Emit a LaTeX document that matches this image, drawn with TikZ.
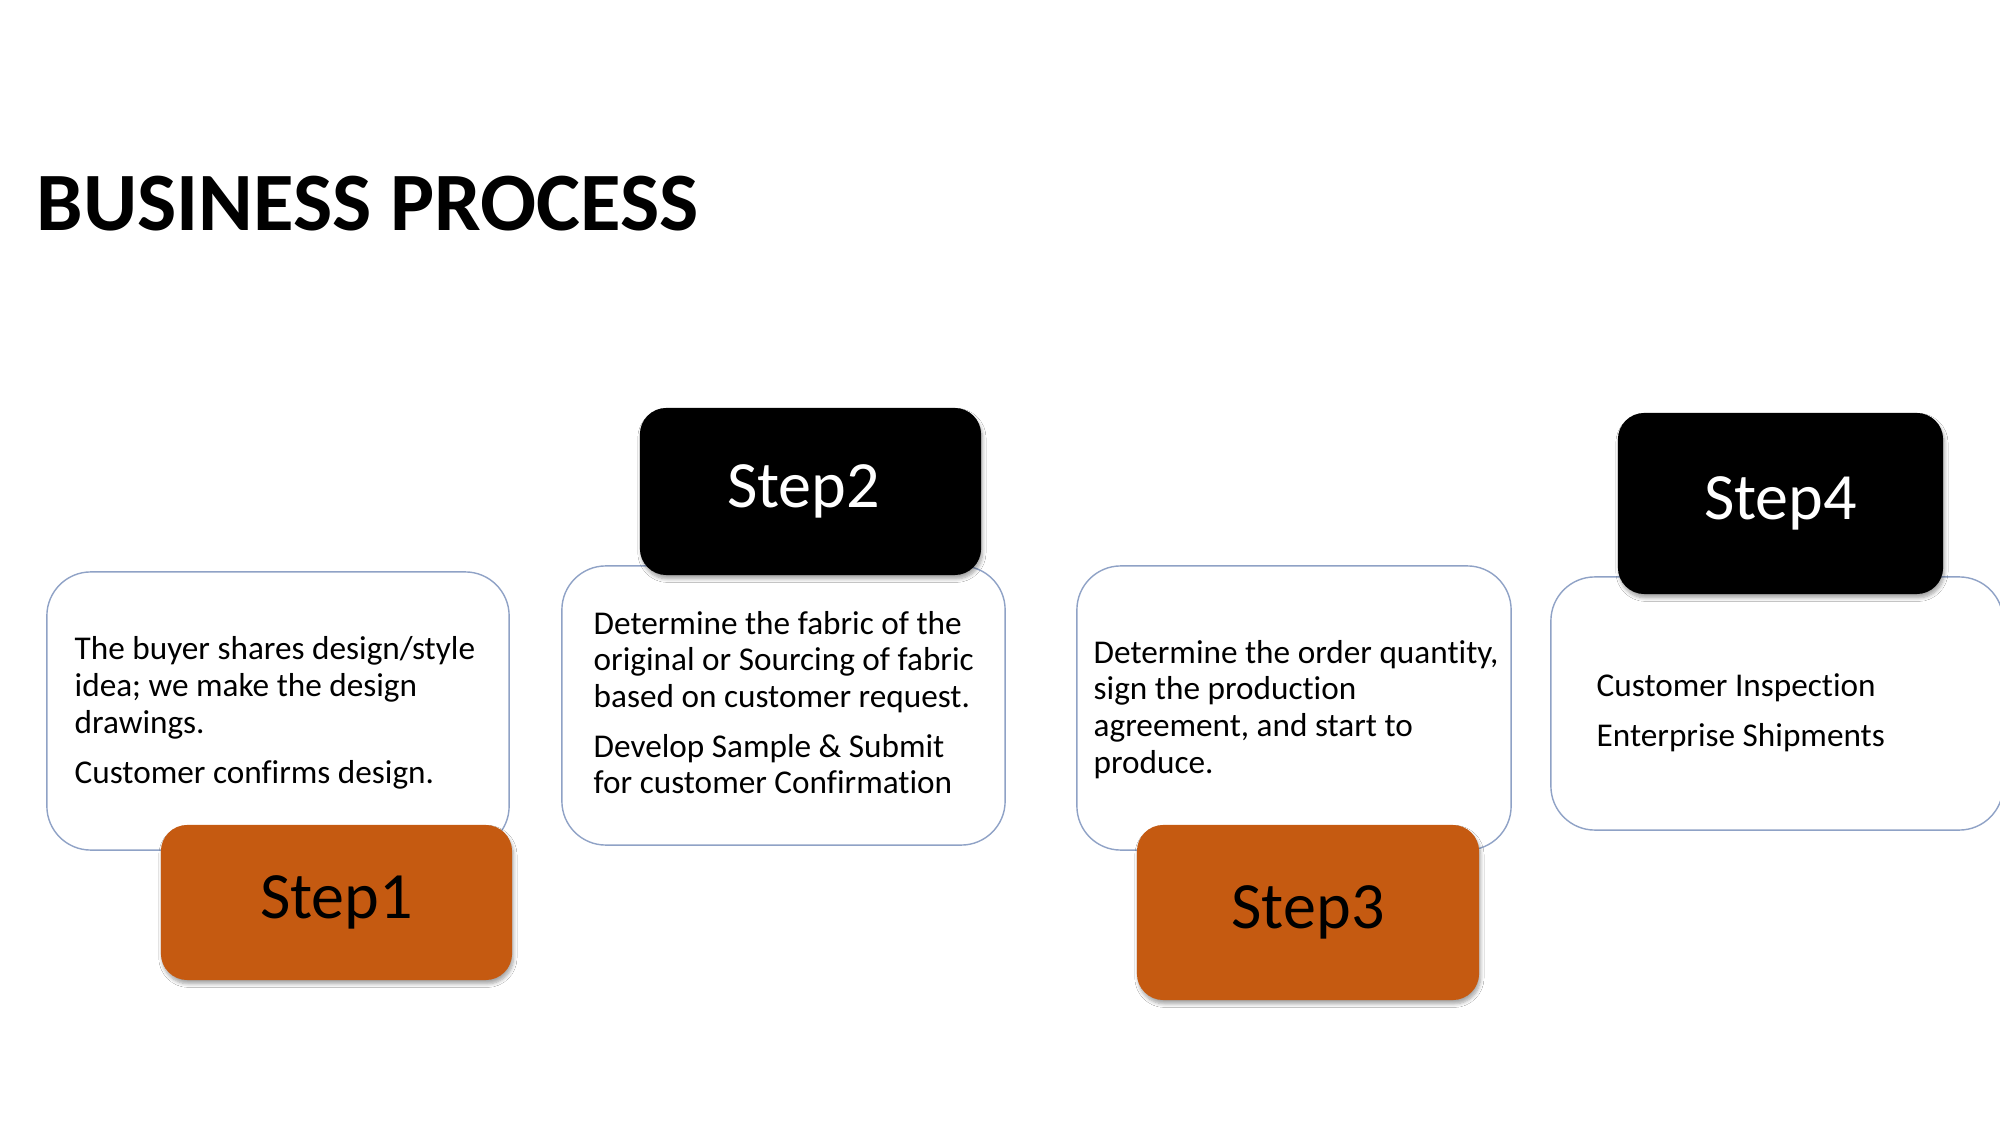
\documentclass[tikz,border=0pt]{standalone}
\usepackage{fontspec}
\setmainfont{Carlito}[Ligatures=NoCommon, Contextuals=NoAlternate]
\usetikzlibrary{shadows.blur}
\definecolor{stepor}{RGB}{197,90,17}
\definecolor{boxline}{RGB}{143,162,198}
\begin{document}
\begin{tikzpicture}[x=0.01cm,y=-0.01cm,
  card/.style={draw=boxline, line width=0.4pt, fill=white, rounded corners=12.5pt, inner sep=0pt},
  stepbox/.style={rounded corners=7.5pt, inner sep=0pt,
    blur shadow={shadow xshift=0.4pt, shadow yshift=-1.1pt, shadow blur radius=1pt, shadow blur steps=6, shadow opacity=35},
    font=\fontsize{18.8}{20}\selectfont},
  desc/.style={anchor=base west, align=left, inner sep=0pt, font=\fontsize{9.45}{10.4}\selectfont}]
\fill[white] (0,0) rectangle (2000,1125);
\useasboundingbox (0,0) rectangle (2000,1125);

\node[anchor=base west, inner sep=0pt, font=\fontsize{23.6}{28}\selectfont\bfseries] (title) at (36,231) {BUSINESS PROCESS};

% cards
\node[card, minimum width=4.62cm, minimum height=2.78cm] (c1) at (278,711) {};
\node[card, minimum width=4.43cm, minimum height=2.79cm] (c2) at (783.5,705.5) {};
\node[card, minimum width=4.34cm, minimum height=2.84cm] (c3) at (1294,708) {};
\node[card, minimum width=4.52cm, minimum height=2.53cm] (c4) at (1777,703.5) {};

% texts (anchored at the baseline of their last line)
\node[desc] (t1) at (74,783) {The buyer shares design/style\\idea; we make the design\\drawings.\\[3.8pt]Customer confirms design.};
\node[desc] (t2) at (593,794) {Determine the fabric of the\\original or Sourcing of fabric\\based on customer request.\\[3.8pt]Develop Sample \& Submit\\for customer Confirmation};
\node[desc] (t3) at (1093,773) {Determine the order quantity,\\sign the production\\agreement, and start to\\produce.};
\node[desc] (t4) at (1596,746) {Customer Inspection\\[3.8pt]Enterprise Shipments};

% step boxes
\node[stepbox, fill=stepor, text=black, minimum width=3.51cm, minimum height=1.55cm] (s1) at (336.5,902.5) {\raisebox{-0.9pt}{Step1}};
\node[stepbox, fill=black, text=white, minimum width=3.41cm, minimum height=1.67cm] (s2) at (810.5,491.5) {\hspace*{-4pt}\raisebox{-1.8pt}{Step2}};
\node[stepbox, fill=stepor, text=black, minimum width=3.42cm, minimum height=1.75cm] (s3) at (1308,912.5) {\raisebox{-0.8pt}{Step3}};
\node[stepbox, fill=black, text=white, minimum width=3.25cm, minimum height=1.81cm] (s4) at (1780.5,503.5) {\raisebox{-2.4pt}{Step4}};
\end{tikzpicture}
\end{document}
